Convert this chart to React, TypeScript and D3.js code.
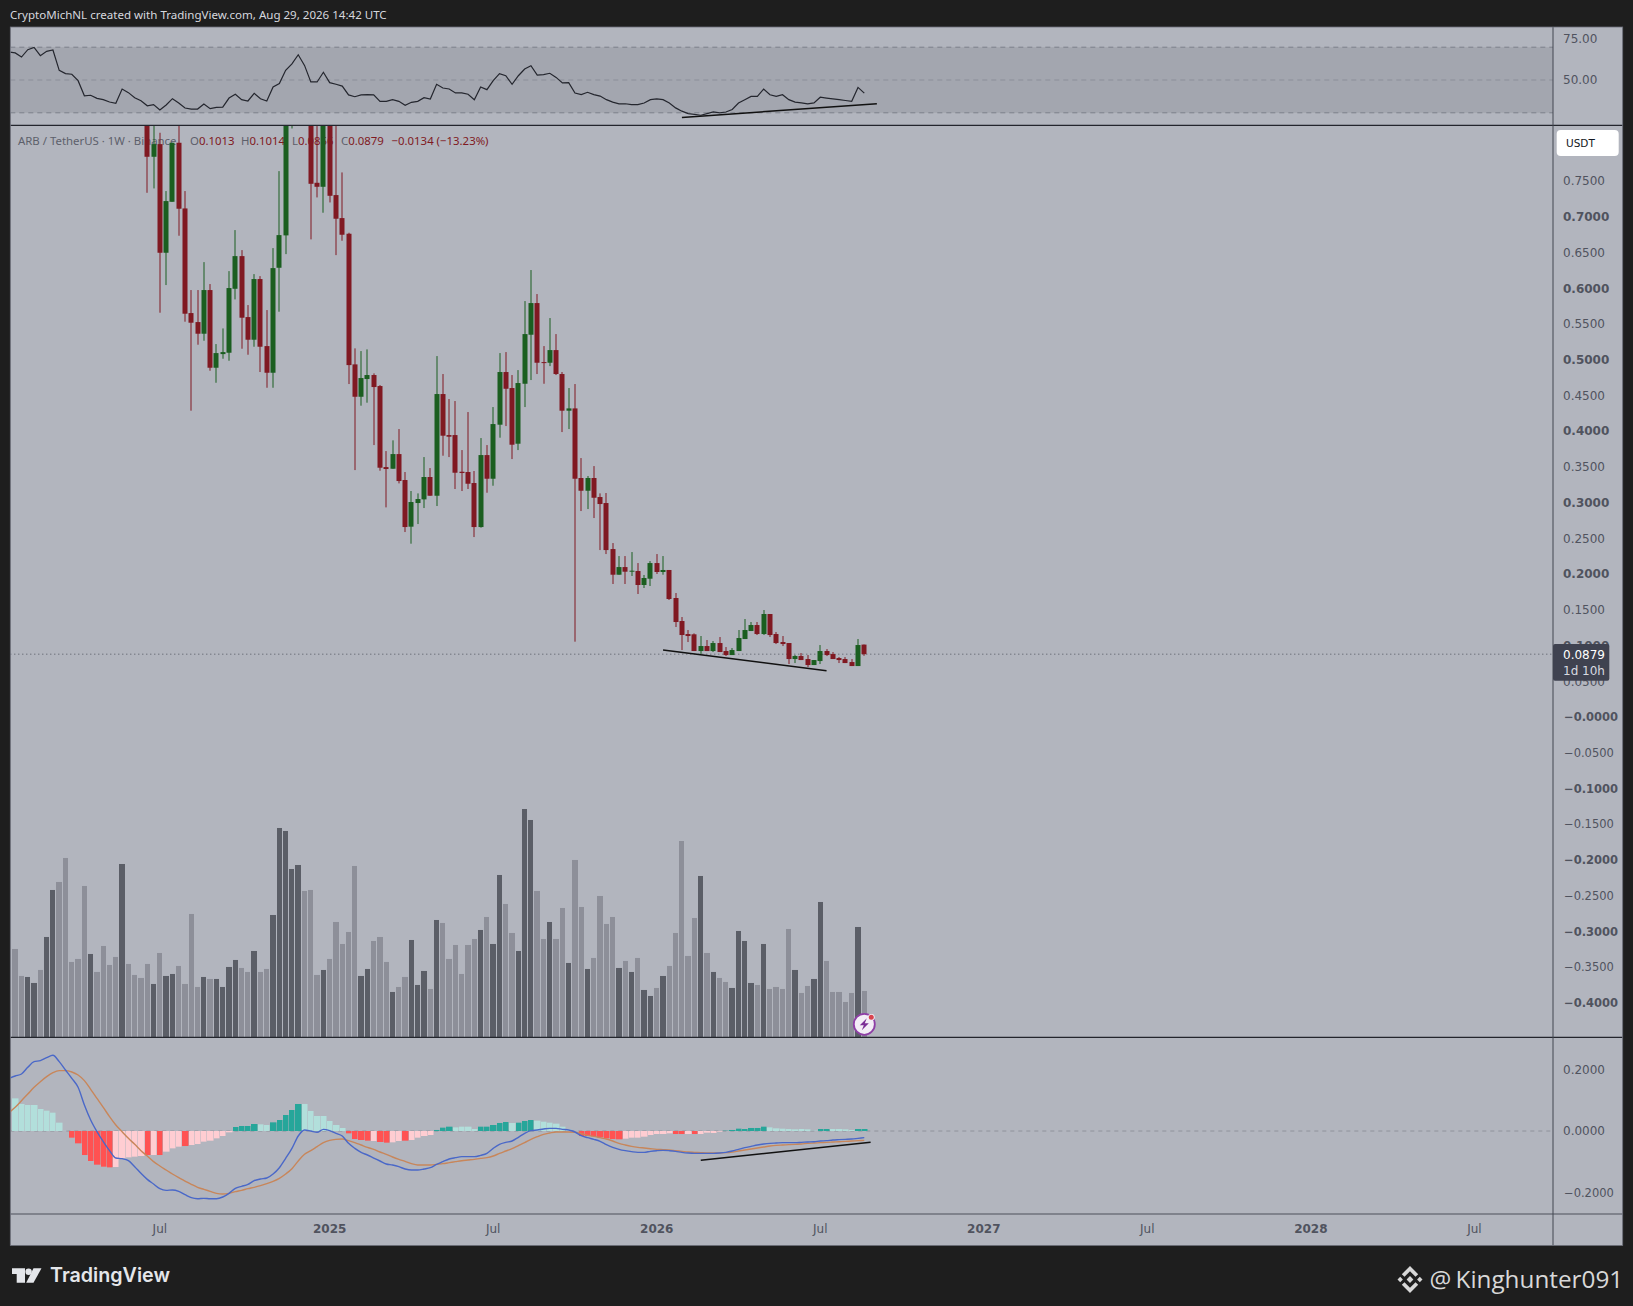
import * as d3 from "d3";

// weekly bars, index 0 is the first bar on screen; candles before index 21 sit above the pane
const candleStart = 21;
const opens = [
  0.9, 0.7839, 0.8016, 0.6496, 0.7209, 0.8035, 0.7116, 0.5652, 0.5526, 0.5363,
  0.5974, 0.4887, 0.5078, 0.5097, 0.5992, 0.6449, 0.5596, 0.5279, 0.6128, 0.519,
  0.4817, 0.6286, 0.6739, 0.88, 0.95, 1.02, 0.92, 0.7475, 0.7419, 0.88,
  0.7303, 0.6981, 0.6762, 0.4934, 0.4481, 0.4729, 0.4785, 0.4631, 0.3497, 0.3474,
  0.3679, 0.3316, 0.2663, 0.2994, 0.3045, 0.3358, 0.3096, 0.4519, 0.3945, 0.3945,
  0.3432, 0.3428, 0.3274, 0.2658, 0.3665, 0.3334, 0.409, 0.4827, 0.4603, 0.3824,
  0.4663, 0.5349, 0.5792, 0.4966, 0.4957, 0.5134, 0.4799, 0.4286, 0.4318, 0.3344,
  0.3166, 0.3344, 0.3078, 0.2994, 0.235, 0.1991, 0.2098, 0.2033, 0.2043, 0.1847,
  0.1935, 0.2154, 0.2029, 0.2057, 0.1665, 0.1343, 0.1161, 0.1157, 0.0923, 0.0993,
  0.0923, 0.1035, 0.0923, 0.0867, 0.0923, 0.1091, 0.1203, 0.1287, 0.1161, 0.1441,
  0.1161, 0.1049, 0.1035, 0.0811, 0.0853, 0.0811, 0.0727, 0.0783, 0.0923, 0.0881,
  0.0825, 0.0811, 0.0769, 0.0713, 0.1013,
];
const highs = [
  0.95, 0.9, 0.8175, 0.7359, 0.8035, 0.9, 0.7359, 0.5974, 0.5974, 0.6365,
  0.6058, 0.5218, 0.5437, 0.6239, 0.6813, 0.6533, 0.5764, 0.6197, 0.6169, 0.5694,
  0.6561, 0.7638, 0.95, 1.0, 1.02, 1.05, 1.02, 0.9, 0.92, 0.92,
  0.85, 0.762, 0.6776, 0.5158, 0.512, 0.5144, 0.4808, 0.4645, 0.3721, 0.3871,
  0.4029, 0.3428, 0.3162, 0.3129, 0.3637, 0.3483, 0.505, 0.4799, 0.4449, 0.4421,
  0.3735, 0.4267, 0.3442, 0.3903, 0.3805, 0.4337, 0.5092, 0.5106, 0.4785, 0.4854,
  0.582, 0.6254, 0.5918, 0.519, 0.5582, 0.5358, 0.4827, 0.4603, 0.4659, 0.3623,
  0.3372, 0.3511, 0.3129, 0.3134, 0.2434, 0.2252, 0.2252, 0.2308, 0.2154, 0.1987,
  0.2182, 0.228, 0.2252, 0.2057, 0.1735, 0.1399, 0.1217, 0.117, 0.1133, 0.1077,
  0.1063, 0.1119, 0.0979, 0.0965, 0.1217, 0.1371, 0.1329, 0.1329, 0.1497, 0.1441,
  0.1189, 0.1133, 0.1035, 0.0867, 0.0895, 0.0867, 0.0797, 0.1007, 0.0951, 0.0909,
  0.0839, 0.0839, 0.0811, 0.1091, 0.1014,
];
const lows = [
  0.7335, 0.7396, 0.5657, 0.6044, 0.7209, 0.6734, 0.5531, 0.4286, 0.5209, 0.5265,
  0.4845, 0.4677, 0.5013, 0.4985, 0.5843, 0.5153, 0.5069, 0.5181, 0.4827, 0.4607,
  0.4607, 0.5671, 0.6477, 0.8235, 0.86, 0.87, 0.6683, 0.727, 0.7056, 0.72,
  0.6463, 0.6664, 0.4659, 0.3455, 0.4356, 0.4398, 0.3805, 0.3446, 0.2933, 0.3474,
  0.3269, 0.2588, 0.2425, 0.27, 0.2924, 0.3096, 0.2952, 0.3656, 0.3637, 0.319,
  0.3162, 0.319, 0.2518, 0.2649, 0.3138, 0.3236, 0.3908, 0.4071, 0.3609, 0.3735,
  0.4337, 0.4715, 0.4799, 0.4663, 0.491, 0.4785, 0.3987, 0.4029, 0.1054, 0.2882,
  0.291, 0.2784, 0.2336, 0.228, 0.1861, 0.1991, 0.1861, 0.1973, 0.1721, 0.1805,
  0.1833, 0.2001, 0.1991, 0.1637, 0.1259, 0.0937, 0.1049, 0.0923, 0.0881, 0.0923,
  0.0909, 0.0909, 0.0853, 0.0867, 0.0923, 0.1091, 0.1203, 0.1147, 0.1147, 0.1119,
  0.1021, 0.0993, 0.0741, 0.0755, 0.0797, 0.0699, 0.0727, 0.0741, 0.0853, 0.0811,
  0.0755, 0.0755, 0.0713, 0.0713, 0.0856,
];
const closes = [
  0.7839, 0.8016, 0.6496, 0.7219, 0.8035, 0.7112, 0.5643, 0.5517, 0.5363, 0.5974,
  0.4887, 0.5092, 0.5106, 0.6002, 0.6449, 0.5587, 0.5279, 0.6128, 0.5181, 0.4817,
  0.6281, 0.6743, 0.88, 0.95, 1.02, 0.92, 0.7461, 0.7419, 0.88, 0.7293,
  0.6972, 0.6748, 0.4924, 0.4481, 0.4743, 0.4785, 0.4617, 0.3488, 0.347, 0.3679,
  0.3302, 0.2658, 0.3008, 0.305, 0.3358, 0.3096, 0.4519, 0.3936, 0.3922, 0.3418,
  0.3414, 0.3264, 0.2658, 0.3665, 0.3334, 0.4099, 0.4827, 0.4593, 0.381, 0.4673,
  0.5358, 0.5792, 0.4957, 0.4952, 0.5134, 0.4799, 0.4286, 0.4318, 0.3334, 0.3166,
  0.3344, 0.3068, 0.298, 0.2336, 0.1991, 0.2098, 0.2033, 0.2047, 0.1847, 0.1945,
  0.2154, 0.2029, 0.2057, 0.1651, 0.1329, 0.1147, 0.1133, 0.0923, 0.0993, 0.0923,
  0.1035, 0.0909, 0.0867, 0.0937, 0.1105, 0.1217, 0.1287, 0.1161, 0.1441, 0.1147,
  0.1035, 0.1021, 0.0811, 0.0853, 0.0797, 0.0727, 0.0797, 0.0923, 0.0867, 0.0811,
  0.0797, 0.0755, 0.0713, 0.1007, 0.0879,
];

const volumes = [
  265, 184, 181, 163, 202, 301, 442, 466, 538, 226, 235, 454, 250, 196, 274, 217, 241, 520, 220, 187,
  178, 220, 160, 253, 184, 190, 214, 160, 370, 151, 181, 175, 175, 151, 211, 232, 208, 196, 259, 196,
  205, 367, 628, 619, 505, 517, 439, 442, 187, 202, 235, 346, 280, 316, 514, 184, 205, 289, 301, 226,
  136, 151, 181, 292, 157, 199, 145, 352, 343, 235, 277, 190, 277, 295, 322, 361, 280, 487, 400, 313,
  259, 685, 652, 439, 295, 346, 295, 388, 223, 532, 391, 205, 238, 424, 340, 361, 208, 229, 196, 238,
  142, 124, 148, 184, 214, 313, 589, 244, 358, 484, 253, 196, 178, 166, 148, 319, 289, 163, 157, 280,
  145, 151, 145, 325, 202, 133, 154, 175, 406, 229, 136, 136, 106, 133, 331, 139,
];
const volumeUp = [
  0, 0, 1, 1, 0, 1, 1, 0, 0, 0, 0, 0, 1, 0, 0, 0, 0, 1, 0, 0,
  0, 0, 1, 0, 1, 1, 0, 0, 0, 0, 1, 0, 1, 1, 1, 1, 0, 0, 1, 0,
  0, 1, 1, 1, 1, 1, 0, 0, 0, 1, 0, 0, 0, 0, 0, 1, 1, 0, 0, 0,
  1, 0, 0, 1, 1, 1, 0, 1, 0, 0, 0, 0, 0, 0, 1, 0, 1, 1, 0, 0,
  1, 1, 1, 0, 0, 1, 0, 0, 1, 0, 0, 1, 0, 0, 0, 0, 1, 0, 1, 0,
  1, 1, 0, 1, 0, 0, 0, 0, 0, 1, 0, 1, 0, 0, 1, 1, 1, 1, 0, 1,
  0, 0, 0, 0, 1, 0, 0, 1, 1, 0, 0, 0, 0, 0, 1, 0,
];

// rsi and macd lines start one bar before the first volume bar
const rsiValues = [
  67.1, 66.5, 64, 68.5, 69.9, 64.8, 67.5, 68.3, 55.9, 53.9, 53.5, 49.6, 40.4, 40.7, 38.8, 38, 36.6, 35.8, 44.5, 42.3,
  39.2, 37.4, 34.3, 35, 31.7, 34.8, 38.6, 36, 32.9, 32.3, 32.3, 35.4, 32.5, 33.3, 33.5, 39, 41.3, 38, 37.2, 41.9,
  38.6, 37.2, 45.7, 47.8, 55.9, 59.8, 65.4, 58.9, 48.8, 48.8, 54.7, 48.4, 47.4, 46.3, 40.9, 39.8, 40.9, 41.1, 40.9, 37,
  37, 38, 37, 34.6, 36.4, 37, 39.2, 38.4, 47.4, 45.1, 44.5, 42.1, 42.1, 41.3, 38, 45.7, 44.1, 49.6, 53.9, 52.6,
  47.4, 52.6, 56.7, 58.7, 53, 53.3, 54.1, 51.6, 48.2, 48.4, 42.1, 41.1, 42.5, 41.1, 40.2, 38, 36.5, 35.5, 35.5, 35,
  35, 36, 38, 38.5, 38, 36, 33, 31, 29.5, 29, 28.5, 29.5, 30.5, 30, 30.5, 32, 36, 38, 40, 40,
  44.5, 41, 40, 41, 38, 36.5, 36, 35.5, 36, 39.5, 39, 38.5, 38, 37.5, 37, 45.5, 42,
];
const macdLine = [
  0.1716, 0.1792, 0.1857, 0.2074, 0.2259, 0.2291, 0.2389, 0.2465, 0.2259, 0.1987, 0.1716, 0.1423, 0.0847, 0.0358, -0.0022, -0.0347, -0.0641, -0.088, -0.0901, -0.0967,
  -0.1162, -0.1379, -0.1575, -0.1727, -0.1879, -0.1933, -0.1922, -0.1966, -0.2074, -0.2172, -0.2205, -0.2194, -0.2205, -0.2205, -0.215, -0.2031, -0.1868, -0.1803, -0.1738, -0.1618,
  -0.1564, -0.1531, -0.1401, -0.1195, -0.0891, -0.0565, -0.0163, 0.0033, 0, -0.0043, 0.0054, 0.0011, -0.0076, -0.0163, -0.0402, -0.0565, -0.0695, -0.0782, -0.088, -0.0977,
  -0.1075, -0.1108, -0.1162, -0.1238, -0.1271, -0.1271, -0.1238, -0.1195, -0.1086, -0.0999, -0.0912, -0.0869, -0.0836, -0.0836, -0.0836, -0.0793, -0.0728, -0.0565, -0.0434, -0.0369,
  -0.0326, -0.0206, -0.0076, 0.0011, 0.0033, 0.0065, 0.0087, 0.0087, 0.0054, 0.0033, -0.0033, -0.0152, -0.0217, -0.0272, -0.0337, -0.0445, -0.0532, -0.0597, -0.0641, -0.0673,
  -0.0695, -0.0695, -0.0662, -0.0641, -0.063, -0.0641, -0.0662, -0.0695, -0.0717, -0.0728, -0.0728, -0.0728, -0.0728, -0.0717, -0.0695, -0.0652, -0.0597, -0.0543, -0.05, -0.0456,
  -0.0424, -0.0402, -0.0391, -0.038, -0.038, -0.038, -0.0369, -0.0358, -0.0348, -0.0326, -0.0315, -0.0293, -0.0282, -0.0272, -0.0261, -0.0239, -0.0217,
];
const signalLine = [
  0.0597, 0.0771, 0.0988, 0.1205, 0.1423, 0.1607, 0.177, 0.19, 0.1966, 0.1966, 0.1922, 0.1824, 0.164, 0.1358, 0.1064, 0.0771, 0.0467, 0.0195, -0.0022, -0.0239,
  -0.0434, -0.0641, -0.0815, -0.0999, -0.114, -0.1271, -0.1401, -0.152, -0.1629, -0.1738, -0.1835, -0.1901, -0.1966, -0.2031, -0.2053, -0.2031, -0.1977, -0.1933, -0.1879, -0.1835,
  -0.1781, -0.1716, -0.164, -0.1542, -0.1401, -0.1227, -0.0977, -0.076, -0.0641, -0.051, -0.038, -0.0304, -0.0272, -0.0261, -0.0315, -0.038, -0.0456, -0.0532, -0.0597, -0.0684,
  -0.076, -0.0847, -0.0923, -0.0988, -0.1064, -0.1108, -0.1108, -0.1108, -0.1086, -0.1064, -0.1032, -0.0999, -0.0967, -0.0945, -0.0923, -0.0891, -0.0869, -0.0815, -0.0728, -0.0652,
  -0.0576, -0.0478, -0.038, -0.0272, -0.0185, -0.0109, -0.0065, -0.0033, -0.0033, -0.0033, -0.0043, -0.0087, -0.0141, -0.0174, -0.0217, -0.0261, -0.0326, -0.0402, -0.0456, -0.05,
  -0.0532, -0.0554, -0.0576, -0.0597, -0.0608, -0.0619, -0.0641, -0.0662, -0.0684, -0.0695, -0.0706, -0.0717, -0.0717, -0.0717, -0.0706, -0.0684, -0.0652, -0.0619, -0.0586, -0.0554,
  -0.0521, -0.0489, -0.0467, -0.0456, -0.0445, -0.0434, -0.0424, -0.0402, -0.0391, -0.038, -0.0369, -0.0358, -0.0348, -0.0337, -0.0326, -0.0315, -0.0304,
];
const histValues = [
  0.1064, 0.088, 0.0847, 0.0847, 0.0717, 0.0662, 0.0597, 0.0271, 0.0005, -0.0217, -0.0402, -0.0782, -0.0977, -0.1097, -0.1162, -0.1184, -0.1173, -0.089, -0.0858, -0.0836,
  -0.0814, -0.0782, -0.0782, -0.0782, -0.0673, -0.0565, -0.051, -0.0489, -0.0456, -0.0424, -0.0347, -0.0315, -0.0239, -0.0163, -0.0043, 0.013, 0.0163, 0.0163, 0.0228, 0.0217,
  0.0195, 0.0282, 0.0358, 0.0521, 0.0684, 0.088, 0.088, 0.0652, 0.0489, 0.0489, 0.0326, 0.0195, 0.0098, -0.0076, -0.0261, -0.0293, -0.0315, -0.0326, -0.0358, -0.038,
  -0.0369, -0.0326, -0.0315, -0.0293, -0.0217, -0.0163, -0.013, 0.0033, 0.0109, 0.0141, 0.0119, 0.0141, 0.0141, 0.0065, 0.0141, 0.0141, 0.0195, 0.0261, 0.0293, 0.0261,
  0.0271, 0.0326, 0.0358, 0.0337, 0.0304, 0.0271, 0.0239, 0.0141, 0.0054, 0, -0.0163, -0.0163, -0.0174, -0.0206, -0.0239, -0.0261, -0.0271, -0.025, -0.0217, -0.0217,
  -0.0185, -0.013, -0.0098, -0.0098, -0.0076, -0.0098, -0.0098, -0.0098, -0.0098, -0.0098, -0.0054, -0.0065, -0.0022, 0.0011, 0.0033, 0.0076, 0.0065, 0.0098, 0.0098, 0.0141,
  0.0119, 0.0087, 0.0076, 0.0065, 0.0054, 0.0065, 0.0054, 0.0011, 0.0065, 0.0065, 0.0065, 0.0065, 0.0054, 0.0033, 0.0065, 0.0065,
];
// 1 = the strong shade of the histogram colour, 0 = the pale one
const histStrong = [
  0, 0, 0, 0, 0, 0, 0, 0, 0, 1, 1, 1, 1, 1, 1, 1, 0, 0, 0, 0,
  0, 1, 0, 1, 0, 0, 0, 1, 0, 0, 0, 0, 0, 0, 0, 1, 1, 1, 1, 0,
  0, 1, 1, 1, 1, 1, 0, 0, 0, 0, 0, 0, 0, 1, 1, 1, 1, 0, 1, 1,
  0, 0, 1, 0, 0, 0, 0, 1, 1, 1, 0, 0, 0, 0, 1, 1, 1, 1, 1, 0,
  1, 1, 1, 0, 0, 0, 0, 0, 0, 0, 1, 1, 1, 1, 1, 1, 1, 0, 0, 0,
  0, 0, 0, 0, 0, 1, 1, 0, 1, 0, 0, 0, 0, 1, 1, 1, 1, 1, 1, 1,
  0, 0, 0, 0, 0, 0, 0, 0, 1, 1, 0, 0, 0, 0, 1, 1,
];

const priceTicks = d3.range(-8, 16).map((d) => d * 0.05);
const rsiTicks = [75, 50];
const macdTicks = [0.2, 0, -0.2];
const timeTicks = [
  { i: 23, label: "Jul" },
  { i: 50, label: "2025" },
  { i: 76, label: "Jul" },
  { i: 102, label: "2026" },
  { i: 128, label: "Jul" },
  { i: 154, label: "2027" },
  { i: 180, label: "Jul" },
  { i: 206, label: "2028" },
  { i: 232, label: "Jul" },
];
const legendValues = [
  { key: "O", value: "0.1013", at: 190 },
  { key: "H", value: "0.1014", at: 241 },
  { key: "L", value: "0.0856", at: 292 },
  { key: "C", value: "0.0879", at: 341 },
];
const lastClose = 0.0879;

const font = "'DejaVu Sans', sans-serif";
const legendFont = "'Noto Sans', sans-serif";
const axisColor = "#50535e";
const upColor = "#1b5e20";
const downColor = "#801922";

const left = 10.3;
const axisX = 1553;
const right = 1622.7;
const top = 27;
const rsiBottom = 125.3;
const volBottom = 1037.3;
const macdBottom = 1214;
const bottom = 1245.5;

const x = d3.scaleLinear().domain([0, 135]).range([15.2, 864.3]);
const priceY = d3.scaleLinear().domain([0, 0.75]).range([717, 181]);
const volY = d3.scaleLinear().domain([0, 700]).range([volBottom, volBottom - 233.3]);
const rsiY = d3.scaleLinear().domain([30, 70]).range([112.8, 47.2]);
const macdY = d3.scaleLinear().domain([-0.2, 0.2]).range([1192.4, 1069.6]);

const rsiPath = d3.line<number>().x((_, i) => x(i - 1)).y((d) => rsiY(d));
const macdPath = d3.line<number>().x((_, i) => x(i - 1)).y((d) => macdY(d)).curve(d3.curveMonotoneX);

// bars fill their slot and leave about a pixel to the next one
const barLeft = (i: number) => Math.round(x(i) - 2.75);
const barWidth = (i: number) => barLeft(i + 1) - barLeft(i) - 1;

const histColor = (v: number, strong: number) => {
  if (v >= 0) return strong ? "#26a69a" : "#b2dfdb";
  return strong ? "#ff5252" : "#ffcdd2";
};

const priceLabel = (d: number) => {
  const v = Math.round(d * 100) / 100;
  if (v === 0) return "\u22120.0000";
  return v < 0 ? `\u2212${Math.abs(v).toFixed(4)}` : v.toFixed(4);
};

function BinanceLogo({ cx, cy }) {
  const shapes = [
    "M0,-3.4L3.4,0L0,3.4L-3.4,0Z",
    "M-9.8,-2.7L-7.1,0L-9.8,2.7L-12.5,0Z",
    "M9.8,-2.7L12.5,0L9.8,2.7L7.1,0Z",
    "M0,-13.5L8.2,-5.3L5.5,-2.7L0,-8.2L-5.5,-2.7L-8.2,-5.3Z",
    "M0,13.5L8.2,5.3L5.5,2.7L0,8.2L-5.5,2.7L-8.2,5.3Z",
  ];
  return (
    <g transform={`translate(${cx},${cy})`} fill="#d8d8d8">
      {shapes.map((d) => (
        <path key={d} d={d} />
      ))}
    </g>
  );
}

export default function App() {
  return (
    <svg
      width={1633}
      height={1306}
      style={{ position: "absolute", left: 0, top: 0, display: "block" }}
      fontFamily={font}
    >
      <defs>
        <clipPath id="main-pane">
          <rect x={left} y={rsiBottom} width={axisX - left} height={volBottom - rsiBottom} />
        </clipPath>
        <clipPath id="rsi-pane">
          <rect x={left} y={top} width={axisX - left} height={rsiBottom - top} />
        </clipPath>
        <clipPath id="macd-pane">
          <rect x={left} y={volBottom} width={axisX - left} height={macdBottom - volBottom} />
        </clipPath>
      </defs>

      <rect width={1633} height={1306} fill="#1e1e1e" />
      <rect x={left} y={top} width={right - left} height={bottom - top} fill="#b2b5be" />

      <text x={10} y={18.5} fontFamily={legendFont} fontSize={11.55} fill="#d6d8de">
        CryptoMichNL created with TradingView.com, Aug 29, 2026 14:42 UTC
      </text>

      {/* RSI */}
      <rect x={left} y={rsiY(70)} width={axisX - left} height={rsiY(30) - rsiY(70)} fill="#a3a6af" />
      {[70, 50, 30].map((d) => (
        <line
          key={d}
          x1={left}
          x2={axisX}
          y1={rsiY(d)}
          y2={rsiY(d)}
          stroke="#787b86"
          strokeOpacity={d === 50 ? 0.55 : 0.9}
          strokeDasharray="5 4"
        />
      ))}
      <g clipPath="url(#rsi-pane)">
        <path d={rsiPath(rsiValues)!} fill="none" stroke="#24262e" strokeWidth={1.2} />
        <line x1={x(106)} x2={x(137)} y1={rsiY(27.2)} y2={rsiY(35.5)} stroke="#111" strokeWidth={1.5} />
      </g>

      {/* legend sits under the candles */}
      <g fontFamily={legendFont} fontSize={11.4}>
        <text x={18} y={144.5} fill="#5d606b">
          ARB / TetherUS · 1W · Binance
        </text>
        {legendValues.map((d) => (
          <text key={d.key} x={d.at} y={144.5}>
            <tspan fill="#5d606b">{d.key}</tspan>
            <tspan fill={downColor}>{d.value}</tspan>
          </text>
        ))}
        <text x={391.5} y={144.5} fill={downColor}>
          {"\u22120.0134 (\u221213.23%)"}
        </text>
      </g>

      <line
        x1={left}
        x2={axisX}
        y1={priceY(lastClose)}
        y2={priceY(lastClose)}
        stroke={axisColor}
        strokeWidth={1}
        strokeDasharray="1 3"
      />

      {/* volume */}
      {volumes.map((v, i) => (
        <rect
          key={i}
          x={barLeft(i)}
          y={volY(v)}
          width={barWidth(i)}
          height={volY(0) - volY(v)}
          fill={volumeUp[i] ? "#5b5e67" : "#8d8f99"}
        />
      ))}

      {/* candles */}
      <g clipPath="url(#main-pane)">
        {opens.map((o, k) => {
          const cx = Math.round(x(k + candleStart));
          const c = closes[k];
          const color = c >= o ? upColor : downColor;
          const y0 = priceY(Math.max(o, c));
          const y1 = priceY(Math.min(o, c));
          return (
            <g key={k}>
              <line x1={cx} x2={cx} y1={priceY(highs[k])} y2={priceY(lows[k])} stroke={color} strokeWidth={1} />
              <rect x={cx - 2.5} y={y0} width={5} height={Math.max(y1 - y0, 1)} fill={color} />
            </g>
          );
        })}
        <line x1={x(103)} x2={x(129)} y1={priceY(0.0937)} y2={priceY(0.0648)} stroke="#111" strokeWidth={1.5} />
      </g>

      {/* MACD */}
      <g clipPath="url(#macd-pane)">
        <line
          x1={left}
          x2={axisX}
          y1={macdY(0)}
          y2={macdY(0)}
          stroke="#787b86"
          strokeOpacity={0.6}
          strokeDasharray="4 4"
        />
        {histValues.map((v, i) => (
          <rect
            key={i}
            x={barLeft(i)}
            y={Math.min(macdY(v), macdY(0))}
            width={barWidth(i) + 0.5}
            height={Math.abs(macdY(v) - macdY(0))}
            fill={histColor(v, histStrong[i])}
          />
        ))}
        <path d={macdPath(signalLine)!} fill="none" stroke="#c8865a" strokeWidth={1.4} />
        <path d={macdPath(macdLine)!} fill="none" stroke="#4a68c8" strokeWidth={1.4} />
        <line x1={x(109)} x2={x(136)} y1={macdY(-0.0955)} y2={macdY(-0.0369)} stroke="#111" strokeWidth={1.5} />
      </g>

      {/* lightning badge */}
      <g transform={`translate(${x(135)},1024.3)`}>
        <circle r={10.5} fill="#f3eef6" stroke="#8e3fa6" strokeWidth={1.8} />
        <path d="M2.5,-6L-4.5,1H-0.5L-2.5,6L4.5,-1H0.5Z" fill="#7b2f96" />
        <circle cx={7} cy={-7} r={3.4} fill="#f3eef6" />
        <circle cx={7} cy={-7} r={2.5} fill="#d8434e" />
      </g>

      {/* pane separators */}
      <line x1={left} x2={right} y1={rsiBottom} y2={rsiBottom} stroke="#23252d" strokeWidth={1.2} />
      <line x1={left} x2={right} y1={volBottom} y2={volBottom} stroke="#23252d" strokeWidth={1.2} />
      <line x1={left} x2={right} y1={macdBottom} y2={macdBottom} stroke="#4d505b" strokeWidth={1.2} />
      <line x1={axisX} x2={axisX} y1={top} y2={bottom} stroke="#434651" strokeWidth={1} />
      <rect
        x={left}
        y={top}
        width={right - left}
        height={bottom - top}
        fill="none"
        stroke="#6a6d78"
        strokeWidth={0.8}
      />

      {/* right axis */}
      <g fontSize={12} fill={axisColor}>
        {rsiTicks.map((d) => (
          <text key={d} x={1563} y={rsiY(d)} dy="0.36em">
            {d.toFixed(2)}
          </text>
        ))}
        {priceTicks.map((d) => {
          const tenth = Math.round(d * 100) % 10 === 0;
          const negative = d < 0.001;
          return (
            <text
              key={d}
              x={negative ? 1564 : 1563}
              y={priceY(d)}
              dy="0.36em"
              fontSize={negative ? 11.5 : 12}
              fontWeight={tenth ? 700 : 400}
            >
              {priceLabel(d)}
            </text>
          );
        })}
        {macdTicks.map((d) => (
          <text key={d} x={d < 0 ? 1564 : 1563} y={macdY(d)} dy="0.36em" fontSize={d < 0 ? 11.5 : 12}>
            {d < 0 ? `\u2212${Math.abs(d).toFixed(4)}` : d.toFixed(4)}
          </text>
        ))}
      </g>

      <rect x={1556.7} y={130} width={62} height={26} rx={4} fill="#ffffff" />
      <text x={1566} y={143} dy="0.36em" fontSize={10.5} fill="#131722">
        USDT
      </text>

      <rect x={1553} y={644} width={56.3} height={36.7} rx={2} fill="#3f4250" />
      <text x={1563} y={654.5} dy="0.36em" fontSize={12} fill="#ffffff">
        0.0879
      </text>
      <text x={1563} y={671} dy="0.36em" fontSize={12} fill="#d8dae0">
        1d 10h
      </text>

      {/* time axis */}
      {timeTicks.map((d) => (
        <text
          key={d.i}
          x={x(d.i)}
          y={1229}
          dy="0.36em"
          textAnchor="middle"
          fontSize={12}
          fontWeight={d.label === "Jul" ? 400 : 700}
          fill={axisColor}
        >
          {d.label}
        </text>
      ))}

      {/* footer */}
      <g fill="#e4e6ea">
        <path d="M12,1268.3H25V1282.7H16.7V1274H12Z" />
        <circle cx={28.6} cy={1271.8} r={3.2} />
        <path d="M33.5,1268.3H41.5L33.5,1282.7H26.2Z" />
        <text x={50} y={1282} fontFamily="Inter, sans-serif" fontSize={19.7} fontWeight={600}>
          TradingView
        </text>
      </g>
      <BinanceLogo cx={1410} cy={1279.5} />
      <text x={1429.5} y={1288} fontFamily="'Open Sans', sans-serif" fontSize={24.3} fill="#d8d8d8">
        @
      </text>
      <text x={1455.5} y={1288} fontFamily="'Open Sans', sans-serif" fontSize={24.3} fill="#d8d8d8">
        Kinghunter091
      </text>
    </svg>
  );
}
